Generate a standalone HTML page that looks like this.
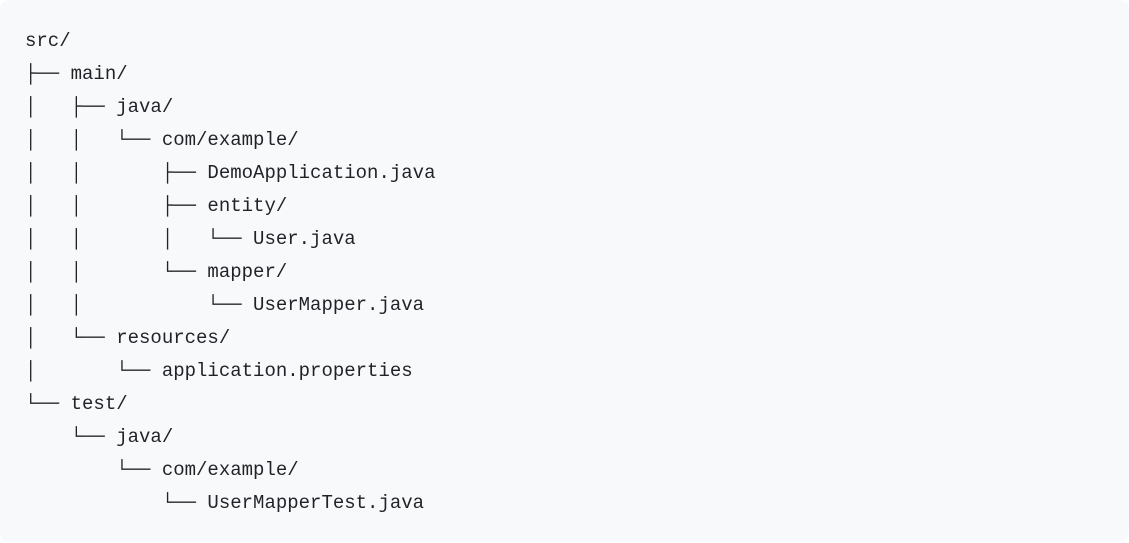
<!DOCTYPE html>
<html><head><meta charset="utf-8"><style>
html,body{margin:0;padding:0;background:#fff;width:1129px;height:543px;overflow:hidden}
.box{position:absolute;left:0;top:0;width:1129px;height:541px;background:#f8f9fa;border-radius:9px}
pre{position:absolute;left:25px;top:25px;margin:0;font-family:"Liberation Mono","DejaVu Sans Mono",monospace;font-size:19px;line-height:33px;color:#1f2328}
</style></head><body><div class="box"></div>
<pre>src/
├── main/
│   ├── java/
│   │   └── com/example/
│   │       ├── DemoApplication.java
│   │       ├── entity/
│   │       │   └── User.java
│   │       └── mapper/
│   │           └── UserMapper.java
│   └── resources/
│       └── application.properties
└── test/
    └── java/
        └── com/example/
            └── UserMapperTest.java</pre>
</body></html>
